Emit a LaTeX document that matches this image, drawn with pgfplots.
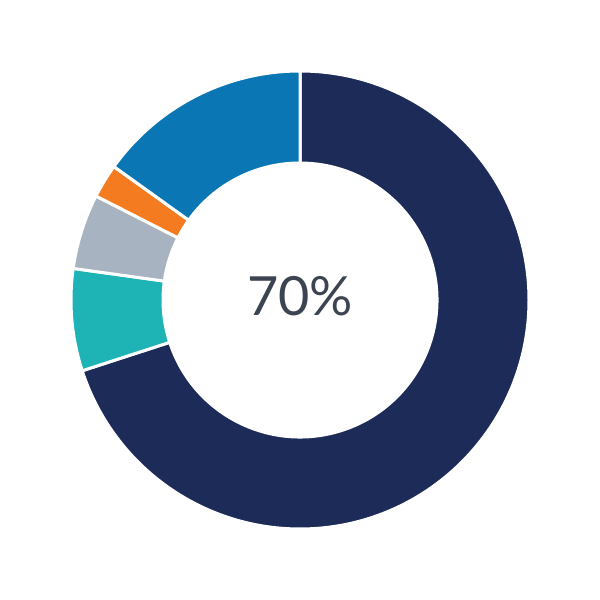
\documentclass[border=0pt]{standalone}
\usepackage{pgfplots}
\pgfplotsset{compat=1.18}
\usepackage{pgfplotstable}
\usepackage{fontspec}
\newfontfamily\lato{Lato}
\definecolor{cNavy}{HTML}{1D2B59}
\definecolor{cTeal}{HTML}{1EB4B6}
\definecolor{cGray}{HTML}{A8B3C1}
\definecolor{cOrange}{HTML}{F47B20}
\definecolor{cBlue}{HTML}{0B76B4}
\definecolor{cText}{HTML}{3B4450}
\pgfplotstableread{
name value color
Navy 70 cNavy
Teal 7.2 cTeal
Gray 5.3 cGray
Orange 2.4 cOrange
Blue 15.1 cBlue
}\donutdata
\begin{document}
\begin{tikzpicture}
\begin{axis}[
  x=0.5pt, y=0.5pt,
  xmin=-300, xmax=300, ymin=-300, ymax=300,
  hide axis, clip=false,
]
\addplot[draw=none, mark=none] coordinates {(-300,-300) (300,300)};
\gdef\cum{0}
\pgfplotstablegetrowsof{\donutdata}
\pgfmathtruncatemacro\nrows{\pgfplotsretval-1}
\foreach \i in {0,...,\nrows}{
  \pgfplotstablegetelem{\i}{value}\of\donutdata
  \let\val\pgfplotsretval
  \pgfplotstablegetelem{\i}{color}\of\donutdata
  \let\col\pgfplotsretval
  \pgfmathsetmacro\startang{90-3.6*\cum}
  \pgfmathsetmacro\newcum{\cum+\val}
  \pgfmathsetmacro\endang{90-3.6*\newcum}
  \xdef\cum{\newcum}
  \edef\temp{\noexpand\fill[fill=\col, draw=white, line width=1.5pt, line join=miter]
    ([shift={(\startang:114.5pt)}]axis cs:0,0)
    arc[start angle=\startang, end angle=\endang, radius=114.5pt]
    -- ([shift={(\endang:68.5pt)}]axis cs:0,0)
    arc[start angle=\endang, end angle=\startang, radius=68.5pt] -- cycle;}
  \temp
}
\node[text=cText, inner sep=0pt] at (axis cs:0,4) {\lato\fontsize{27}{27}\selectfont 70\%};
\end{axis}
\end{tikzpicture}
\end{document}
